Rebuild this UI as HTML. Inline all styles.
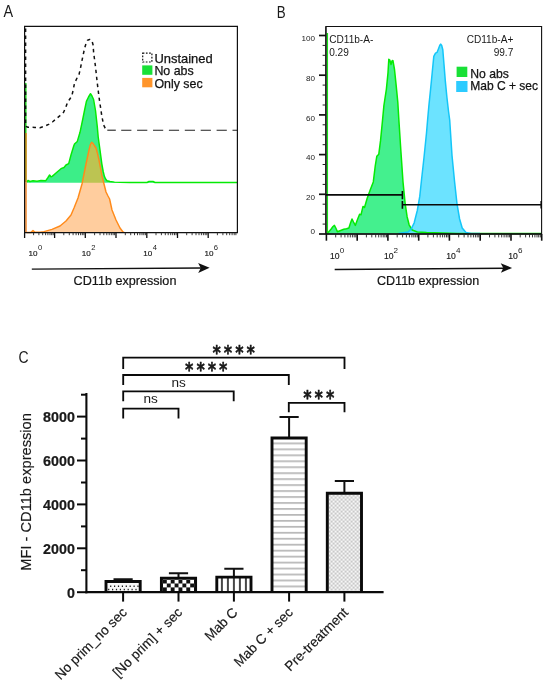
<!DOCTYPE html>
<html lang="en"><head><meta charset="utf-8"><title>CD11b expression figure</title>
<style>html,body{margin:0;padding:0;background:#fff}svg{display:block}text{font-family:'Liberation Sans', sans-serif;fill:#1a1a1a}</style></head><body>
<svg width="550" height="684" viewBox="0 0 550 684">
<defs>
<pattern id="pdots" x="107.5" y="583.2" width="40" height="20" patternUnits="userSpaceOnUse"><rect width="40" height="20" fill="#f7f7f7"/></pattern>
<pattern id="pcheck" x="162.9" y="579.6" width="7.8" height="7.8" patternUnits="userSpaceOnUse"><rect width="7.8" height="7.8" fill="#fff"/><rect width="3.9" height="3.9" fill="#111"/><rect x="3.9" y="3.9" width="3.9" height="3.9" fill="#111"/></pattern>
<pattern id="pvert" x="218.9" y="570" width="6" height="10" patternUnits="userSpaceOnUse"><rect width="6" height="10" fill="#fff"/><rect x="2.2" width="1.6" height="10" fill="#1a1a1a"/></pattern>
<pattern id="phorz" x="270" y="440.5" width="40" height="5.96" patternUnits="userSpaceOnUse"><rect width="40" height="5.96" fill="#fff"/><rect y="2.5" width="40" height="0.85" fill="#6e6e6e"/></pattern>
<pattern id="pfine" x="328.6" y="494.6" width="4" height="4" patternUnits="userSpaceOnUse"><rect width="4" height="4" fill="#f7f7f7"/><rect width="2" height="2" fill="#c8c8c8"/><rect x="2" y="2" width="2" height="2" fill="#c8c8c8"/></pattern>
</defs>
<g id="panelA">
<text x="3.4" y="16.6" font-size="16" textLength="9.6" lengthAdjust="spacingAndGlyphs" fill="#000">A</text>
<clipPath id="cgA"><path d="M26.7,182.1 L28.0,180.5 L30.0,181.5 L33.0,180.7 L37.0,181.3 L41.0,180.5 L45.8,180.7 L48.0,177.5 L49.6,175.0 L51.0,176.8 L52.2,176.4 L56.0,173.0 L61.0,168.7 L64.0,167.5 L66.0,165.0 L68.7,163.6 L71.0,155.0 L73.8,145.8 L74.5,144.1 L77.3,141.4 L80.0,132.3 L82.7,119.5 L84.5,110.5 L86.4,101.4 L88.5,97.0 L90.5,93.7 L92.0,96.0 L93.6,99.5 L95.5,110.5 L97.3,126.8 L98.2,137.0 L100.0,150.0 L101.8,163.6 L103.2,171.5 L104.4,176.4 L105.6,179.0 L107.0,180.7 L110.0,181.5 L114.5,182.1 L120.0,182.4 L130.0,182.5 L140.0,182.5 L147.0,182.5 L149.0,181.5 L153.0,181.5 L155.0,182.5 L170.0,182.5 L200.0,182.5 L237.4,182.5 L237.4,182.7 L26.7,182.7 Z"/></clipPath>
<path d="M26.7,182.1 L28.0,180.5 L30.0,181.5 L33.0,180.7 L37.0,181.3 L41.0,180.5 L45.8,180.7 L48.0,177.5 L49.6,175.0 L51.0,176.8 L52.2,176.4 L56.0,173.0 L61.0,168.7 L64.0,167.5 L66.0,165.0 L68.7,163.6 L71.0,155.0 L73.8,145.8 L74.5,144.1 L77.3,141.4 L80.0,132.3 L82.7,119.5 L84.5,110.5 L86.4,101.4 L88.5,97.0 L90.5,93.7 L92.0,96.0 L93.6,99.5 L95.5,110.5 L97.3,126.8 L98.2,137.0 L100.0,150.0 L101.8,163.6 L103.2,171.5 L104.4,176.4 L105.6,179.0 L107.0,180.7 L110.0,181.5 L114.5,182.1 L120.0,182.4 L130.0,182.5 L140.0,182.5 L147.0,182.5 L149.0,181.5 L153.0,181.5 L155.0,182.5 L170.0,182.5 L200.0,182.5 L237.4,182.5 L237.4,182.7 L26.7,182.7 Z" fill="#3cee88" stroke="none"/>
<path d="M26.5,232.4 L31.0,232.4 L33.0,230.6 L35.0,232.2 L40.0,232.2 L44.0,231.6 L52.0,229.4 L60.0,226.0 L66.0,221.0 L71.0,215.0 L74.0,208.0 L78.0,198.0 L82.0,184.0 L86.0,164.0 L89.0,150.0 L90.4,144.5 L91.6,142.3 L93.2,143.6 L94.6,146.0 L96.0,148.0 L97.5,153.5 L99.0,160.0 L102.0,176.0 L106.0,192.0 L108.0,196.0 L109.6,199.0 L112.0,210.0 L116.0,220.0 L120.0,228.0 L123.0,232.0 L124.5,232.6 Z" fill="#ffcd9e" stroke="none"/>
<path d="M26.5,232.4 L31.0,232.4 L33.0,230.6 L35.0,232.2 L40.0,232.2 L44.0,231.6 L52.0,229.4 L60.0,226.0 L66.0,221.0 L71.0,215.0 L74.0,208.0 L78.0,198.0 L82.0,184.0 L86.0,164.0 L89.0,150.0 L90.4,144.5 L91.6,142.3 L93.2,143.6 L94.6,146.0 L96.0,148.0 L97.5,153.5 L99.0,160.0 L102.0,176.0 L106.0,192.0 L108.0,196.0 L109.6,199.0 L112.0,210.0 L116.0,220.0 L120.0,228.0 L123.0,232.0 L124.5,232.6 Z" fill="#bcc452" stroke="none" clip-path="url(#cgA)"/>
<path d="M26.7,182.1 L28.0,180.5 L30.0,181.5 L33.0,180.7 L37.0,181.3 L41.0,180.5 L45.8,180.7 L48.0,177.5 L49.6,175.0 L51.0,176.8 L52.2,176.4 L56.0,173.0 L61.0,168.7 L64.0,167.5 L66.0,165.0 L68.7,163.6 L71.0,155.0 L73.8,145.8 L74.5,144.1 L77.3,141.4 L80.0,132.3 L82.7,119.5 L84.5,110.5 L86.4,101.4 L88.5,97.0 L90.5,93.7 L92.0,96.0 L93.6,99.5 L95.5,110.5 L97.3,126.8 L98.2,137.0 L100.0,150.0 L101.8,163.6 L103.2,171.5 L104.4,176.4 L105.6,179.0 L107.0,180.7 L110.0,181.5 L114.5,182.1 L120.0,182.4 L130.0,182.5 L140.0,182.5 L147.0,182.5 L149.0,181.5 L153.0,181.5 L155.0,182.5 L170.0,182.5 L200.0,182.5 L237.4,182.5" fill="none" stroke="#05ea05" stroke-width="1.45" stroke-linejoin="round"/>
<path d="M26.5,232.4 L31.0,232.4 L33.0,230.6 L35.0,232.2 L40.0,232.2 L44.0,231.6 L52.0,229.4 L60.0,226.0 L66.0,221.0 L71.0,215.0 L74.0,208.0 L78.0,198.0 L82.0,184.0 L86.0,164.0 L89.0,150.0 L90.4,144.5 L91.6,142.3 L93.2,143.6 L94.6,146.0 L96.0,148.0 L97.5,153.5 L99.0,160.0 L102.0,176.0 L106.0,192.0 L108.0,196.0 L109.6,199.0 L112.0,210.0 L116.0,220.0 L120.0,228.0 L123.0,232.0 L124.5,232.6" fill="none" stroke="#ff8a1a" stroke-width="1.45" stroke-linejoin="round"/>
<line x1="25.8" y1="83" x2="25.8" y2="182" stroke="#1fe01f" stroke-width="1.5"/>
<line x1="26" y1="133" x2="26" y2="232.3" stroke="#f5801a" stroke-width="1.4"/>
<path d="M25.6,28.5 L25.6,126.3 L28.0,127.3 L30.5,127.2 L35.0,127.4 L40.0,127.7 L44.5,126.3 L49.1,124.1 L53.0,121.5 L56.4,118.6 L60.0,115.6 L63.6,112.3 L65.5,108.0 L67.3,103.2 L69.5,99.5 L71.8,95.9 L73.2,90.0 L74.5,83.2 L76.8,78.5 L79.1,74.1 L80.5,68.0 L81.8,61.4 L84.5,48.6 L86.4,42.3 L87.6,40.2 L89.7,39.4 L91.8,40.2 L93.1,45.0 L93.6,52.3 L95.5,66.8 L97.3,83.2 L99.1,97.7 L101.8,115.9 L103.6,125.0 L105.2,128.2 L107.3,129.8" fill="none" stroke="#111" stroke-width="1.5" stroke-dasharray="3.4 3.6" stroke-linejoin="round"/>
<line x1="107.3" y1="130.2" x2="115.8" y2="130.2" stroke="#222" stroke-width="1.1"/>
<line x1="121.2" y1="130.2" x2="237" y2="130.2" stroke="#222" stroke-width="1.05" stroke-dasharray="10.2 5.7"/>
<path d="M24.6,26.3 H237.4 V232.6 H24.6 Z" fill="none" stroke="#111" stroke-width="1.2"/>
<line x1="24.6" y1="232.6" x2="24.6" y2="238.0" stroke="#111" stroke-width="1.3"/>
<line x1="33.6" y1="232.6" x2="33.6" y2="235.2" stroke="#222" stroke-width="0.9"/>
<line x1="38.9" y1="232.6" x2="38.9" y2="235.2" stroke="#222" stroke-width="0.9"/>
<line x1="42.7" y1="232.6" x2="42.7" y2="235.2" stroke="#222" stroke-width="0.9"/>
<line x1="45.6" y1="232.6" x2="45.6" y2="235.2" stroke="#222" stroke-width="0.9"/>
<line x1="47.9" y1="232.6" x2="47.9" y2="235.2" stroke="#222" stroke-width="0.9"/>
<line x1="50.0" y1="232.6" x2="50.0" y2="235.2" stroke="#222" stroke-width="0.9"/>
<line x1="51.7" y1="232.6" x2="51.7" y2="235.2" stroke="#222" stroke-width="0.9"/>
<line x1="53.2" y1="232.6" x2="53.2" y2="235.2" stroke="#222" stroke-width="0.9"/>
<line x1="54.6" y1="232.6" x2="54.6" y2="238.0" stroke="#111" stroke-width="1.3"/>
<line x1="63.8" y1="232.6" x2="63.8" y2="235.2" stroke="#222" stroke-width="0.9"/>
<line x1="69.3" y1="232.6" x2="69.3" y2="235.2" stroke="#222" stroke-width="0.9"/>
<line x1="73.1" y1="232.6" x2="73.1" y2="235.2" stroke="#222" stroke-width="0.9"/>
<line x1="76.1" y1="232.6" x2="76.1" y2="235.2" stroke="#222" stroke-width="0.9"/>
<line x1="78.5" y1="232.6" x2="78.5" y2="235.2" stroke="#222" stroke-width="0.9"/>
<line x1="80.6" y1="232.6" x2="80.6" y2="235.2" stroke="#222" stroke-width="0.9"/>
<line x1="82.3" y1="232.6" x2="82.3" y2="235.2" stroke="#222" stroke-width="0.9"/>
<line x1="83.9" y1="232.6" x2="83.9" y2="235.2" stroke="#222" stroke-width="0.9"/>
<line x1="85.3" y1="232.6" x2="85.3" y2="238.0" stroke="#111" stroke-width="1.3"/>
<line x1="94.6" y1="232.6" x2="94.6" y2="235.2" stroke="#222" stroke-width="0.9"/>
<line x1="100.0" y1="232.6" x2="100.0" y2="235.2" stroke="#222" stroke-width="0.9"/>
<line x1="103.8" y1="232.6" x2="103.8" y2="235.2" stroke="#222" stroke-width="0.9"/>
<line x1="106.8" y1="232.6" x2="106.8" y2="235.2" stroke="#222" stroke-width="0.9"/>
<line x1="109.2" y1="232.6" x2="109.2" y2="235.2" stroke="#222" stroke-width="0.9"/>
<line x1="111.3" y1="232.6" x2="111.3" y2="235.2" stroke="#222" stroke-width="0.9"/>
<line x1="113.1" y1="232.6" x2="113.1" y2="235.2" stroke="#222" stroke-width="0.9"/>
<line x1="114.6" y1="232.6" x2="114.6" y2="235.2" stroke="#222" stroke-width="0.9"/>
<line x1="116.0" y1="232.6" x2="116.0" y2="238.0" stroke="#111" stroke-width="1.3"/>
<line x1="125.3" y1="232.6" x2="125.3" y2="235.2" stroke="#222" stroke-width="0.9"/>
<line x1="130.7" y1="232.6" x2="130.7" y2="235.2" stroke="#222" stroke-width="0.9"/>
<line x1="134.5" y1="232.6" x2="134.5" y2="235.2" stroke="#222" stroke-width="0.9"/>
<line x1="137.5" y1="232.6" x2="137.5" y2="235.2" stroke="#222" stroke-width="0.9"/>
<line x1="139.9" y1="232.6" x2="139.9" y2="235.2" stroke="#222" stroke-width="0.9"/>
<line x1="142.0" y1="232.6" x2="142.0" y2="235.2" stroke="#222" stroke-width="0.9"/>
<line x1="143.8" y1="232.6" x2="143.8" y2="235.2" stroke="#222" stroke-width="0.9"/>
<line x1="145.4" y1="232.6" x2="145.4" y2="235.2" stroke="#222" stroke-width="0.9"/>
<line x1="146.8" y1="232.6" x2="146.8" y2="238.0" stroke="#111" stroke-width="1.3"/>
<line x1="156.0" y1="232.6" x2="156.0" y2="235.2" stroke="#222" stroke-width="0.9"/>
<line x1="161.4" y1="232.6" x2="161.4" y2="235.2" stroke="#222" stroke-width="0.9"/>
<line x1="165.3" y1="232.6" x2="165.3" y2="235.2" stroke="#222" stroke-width="0.9"/>
<line x1="168.2" y1="232.6" x2="168.2" y2="235.2" stroke="#222" stroke-width="0.9"/>
<line x1="170.7" y1="232.6" x2="170.7" y2="235.2" stroke="#222" stroke-width="0.9"/>
<line x1="172.7" y1="232.6" x2="172.7" y2="235.2" stroke="#222" stroke-width="0.9"/>
<line x1="174.5" y1="232.6" x2="174.5" y2="235.2" stroke="#222" stroke-width="0.9"/>
<line x1="176.1" y1="232.6" x2="176.1" y2="235.2" stroke="#222" stroke-width="0.9"/>
<line x1="177.5" y1="232.6" x2="177.5" y2="238.0" stroke="#111" stroke-width="1.3"/>
<line x1="186.7" y1="232.6" x2="186.7" y2="235.2" stroke="#222" stroke-width="0.9"/>
<line x1="192.1" y1="232.6" x2="192.1" y2="235.2" stroke="#222" stroke-width="0.9"/>
<line x1="196.0" y1="232.6" x2="196.0" y2="235.2" stroke="#222" stroke-width="0.9"/>
<line x1="199.0" y1="232.6" x2="199.0" y2="235.2" stroke="#222" stroke-width="0.9"/>
<line x1="201.4" y1="232.6" x2="201.4" y2="235.2" stroke="#222" stroke-width="0.9"/>
<line x1="203.4" y1="232.6" x2="203.4" y2="235.2" stroke="#222" stroke-width="0.9"/>
<line x1="205.2" y1="232.6" x2="205.2" y2="235.2" stroke="#222" stroke-width="0.9"/>
<line x1="206.8" y1="232.6" x2="206.8" y2="235.2" stroke="#222" stroke-width="0.9"/>
<line x1="208.2" y1="232.6" x2="208.2" y2="238.0" stroke="#111" stroke-width="1.3"/>
<line x1="217.4" y1="232.6" x2="217.4" y2="235.2" stroke="#222" stroke-width="0.9"/>
<line x1="222.9" y1="232.6" x2="222.9" y2="235.2" stroke="#222" stroke-width="0.9"/>
<line x1="226.7" y1="232.6" x2="226.7" y2="235.2" stroke="#222" stroke-width="0.9"/>
<line x1="229.7" y1="232.6" x2="229.7" y2="235.2" stroke="#222" stroke-width="0.9"/>
<line x1="232.1" y1="232.6" x2="232.1" y2="235.2" stroke="#222" stroke-width="0.9"/>
<line x1="234.2" y1="232.6" x2="234.2" y2="235.2" stroke="#222" stroke-width="0.9"/>
<line x1="235.9" y1="232.6" x2="235.9" y2="235.2" stroke="#222" stroke-width="0.9"/>
<text x="33.1" y="256" font-size="8.1" text-anchor="middle" fill="#111" stroke="#111" stroke-width="0.15">10</text><text x="38.0" y="249.7" font-size="7.6" fill="#111">0</text>
<text x="86.3" y="256" font-size="8.1" text-anchor="middle" fill="#111" stroke="#111" stroke-width="0.15">10</text><text x="91.2" y="249.7" font-size="7.6" fill="#111">2</text>
<text x="147.8" y="256" font-size="8.1" text-anchor="middle" fill="#111" stroke="#111" stroke-width="0.15">10</text><text x="152.7" y="249.7" font-size="7.6" fill="#111">4</text>
<text x="208.9" y="256" font-size="8.1" text-anchor="middle" fill="#111" stroke="#111" stroke-width="0.15">10</text><text x="213.8" y="249.7" font-size="7.6" fill="#111">6</text>
<rect x="142.7" y="53.2" width="9.2" height="8.8" fill="#fff" stroke="#111" stroke-width="1.2" stroke-dasharray="1.7 1.5"/>
<rect x="142.2" y="65.4" width="10.2" height="9.4" fill="#18e036"/>
<rect x="142.2" y="77.9" width="10.2" height="9.4" fill="#ff952b"/>
<text x="154.4" y="62.9" font-size="12.8" fill="#000" stroke="#000" stroke-width="0.25" textLength="58.3" lengthAdjust="spacingAndGlyphs">Unstained</text>
<text x="154.4" y="75.2" font-size="12.8" fill="#000" stroke="#000" stroke-width="0.25" textLength="39.3" lengthAdjust="spacingAndGlyphs">No abs</text>
<text x="154.4" y="87.7" font-size="12.8" fill="#000" stroke="#000" stroke-width="0.25" textLength="48.3" lengthAdjust="spacingAndGlyphs">Only sec</text>
<line x1="31.8" y1="269.1" x2="201.5" y2="268" stroke="#111" stroke-width="1.4"/>
<path d="M209.6,267.8 L198.1,263.1 L200.8,268 L198.2,272.9 Z" fill="#111"/>
<text x="73.6" y="284.9" font-size="12.6" textLength="102.8" fill="#000" stroke="#000" stroke-width="0.2" lengthAdjust="spacingAndGlyphs">CD11b expression</text>
</g>
<g id="panelB">
<text x="276.7" y="18.2" font-size="15.8" textLength="8.9" lengthAdjust="spacingAndGlyphs" fill="#000">B</text>
<path d="M327.3,233.4 L329.0,231.5 L331.0,229.3 L333.0,226.5 L334.4,225.4 L335.8,228.0 L337.4,231.8 L340.0,230.8 L343.8,229.3 L346.5,228.8 L348.9,228.0 L350.5,223.0 L352.0,219.0 L353.5,222.0 L355.3,225.4 L357.5,219.5 L359.6,214.3 L361.0,214.8 L363.0,206.4 L364.5,207.5 L367.2,198.2 L370.2,190.0 L373.3,181.9 L375.3,165.5 L376.8,156.3 L378.8,154.2 L380.5,140.9 L382.5,120.5 L383.9,105.5 L386.4,89.1 L388.0,72.7 L388.8,59.3 L389.8,60.0 L391.0,64.5 L392.0,61.0 L392.9,60.5 L394.5,69.5 L396.2,85.8 L397.8,102.2 L398.9,120.5 L400.9,151.2 L403.0,181.9 L405.0,202.3 L407.1,216.7 L409.1,224.8 L412.2,230.0 L417.3,232.0 L426.5,232.6 L441.8,233.0 L457.0,233.4 L470.0,233.5 L541.0,233.5 L541.0,233.8 L327.3,233.8 Z" fill="#44f08e" stroke="none"/>
<path d="M398.5,233.5 L403.0,232.7 L408.1,232.0 L411.2,229.0 L414.2,222.8 L417.3,210.5 L419.8,196.2 L421.5,180.0 L424.0,157.5 L426.5,133.0 L427.6,120.0 L428.9,105.5 L430.6,89.1 L432.2,72.7 L433.8,56.4 L435.5,53.1 L437.1,52.3 L438.7,48.2 L439.8,45.2 L440.7,44.1 L441.7,45.5 L442.8,49.8 L444.0,64.5 L445.3,80.9 L446.9,97.3 L448.6,112.0 L449.7,120.0 L452.0,155.5 L454.5,181.0 L457.0,203.8 L459.6,219.0 L462.2,228.0 L466.0,232.4 L471.0,233.6 L480.0,233.6 Z" fill="#5ce0ff" fill-opacity="0.9" stroke="none"/>
<path d="M327.3,233.4 L329.0,231.5 L331.0,229.3 L333.0,226.5 L334.4,225.4 L335.8,228.0 L337.4,231.8 L340.0,230.8 L343.8,229.3 L346.5,228.8 L348.9,228.0 L350.5,223.0 L352.0,219.0 L353.5,222.0 L355.3,225.4 L357.5,219.5 L359.6,214.3 L361.0,214.8 L363.0,206.4 L364.5,207.5 L367.2,198.2 L370.2,190.0 L373.3,181.9 L375.3,165.5 L376.8,156.3 L378.8,154.2 L380.5,140.9 L382.5,120.5 L383.9,105.5 L386.4,89.1 L388.0,72.7 L388.8,59.3 L389.8,60.0 L391.0,64.5 L392.0,61.0 L392.9,60.5 L394.5,69.5 L396.2,85.8 L397.8,102.2 L398.9,120.5 L400.9,151.2 L403.0,181.9 L405.0,202.3 L407.1,216.7 L409.1,224.8 L412.2,230.0 L417.3,232.0 L426.5,232.6 L441.8,233.0 L457.0,233.4 L470.0,233.5 L541.0,233.5" fill="none" stroke="#05ea05" stroke-width="1.5" stroke-linejoin="round"/>
<path d="M398.5,233.5 L403.0,232.7 L408.1,232.0 L411.2,229.0 L414.2,222.8 L417.3,210.5 L419.8,196.2 L421.5,180.0 L424.0,157.5 L426.5,133.0 L427.6,120.0 L428.9,105.5 L430.6,89.1 L432.2,72.7 L433.8,56.4 L435.5,53.1 L437.1,52.3 L438.7,48.2 L439.8,45.2 L440.7,44.1 L441.7,45.5 L442.8,49.8 L444.0,64.5 L445.3,80.9 L446.9,97.3 L448.6,112.0 L449.7,120.0 L452.0,155.5 L454.5,181.0 L457.0,203.8 L459.6,219.0 L462.2,228.0 L466.0,232.4 L471.0,233.6 L480.0,233.6" fill="none" stroke="#14c6f8" stroke-width="1.5" stroke-linejoin="round"/>
<line x1="327.3" y1="33" x2="327.3" y2="233.7" stroke="#18e218" stroke-width="1.5"/>
<path d="M325.9,26.5 H541.6 V234.0 H325.9 Z" fill="none" stroke="#111" stroke-width="1.1"/>
<line x1="325.9" y1="26.5" x2="325.9" y2="234.0" stroke="#111" stroke-width="1.2"/>
<line x1="325.9" y1="234.0" x2="541.6" y2="234.0" stroke="#111" stroke-width="1.4"/>
<line x1="326.4" y1="234.0" x2="326.4" y2="240.7" stroke="#111" stroke-width="1.6"/>
<line x1="335.7" y1="234.0" x2="335.7" y2="237.4" stroke="#222" stroke-width="0.9"/>
<line x1="341.1" y1="234.0" x2="341.1" y2="237.4" stroke="#222" stroke-width="0.9"/>
<line x1="344.9" y1="234.0" x2="344.9" y2="237.4" stroke="#222" stroke-width="0.9"/>
<line x1="347.9" y1="234.0" x2="347.9" y2="237.4" stroke="#222" stroke-width="0.9"/>
<line x1="350.3" y1="234.0" x2="350.3" y2="237.4" stroke="#222" stroke-width="0.9"/>
<line x1="352.4" y1="234.0" x2="352.4" y2="237.4" stroke="#222" stroke-width="0.9"/>
<line x1="354.2" y1="234.0" x2="354.2" y2="237.4" stroke="#222" stroke-width="0.9"/>
<line x1="355.8" y1="234.0" x2="355.8" y2="237.4" stroke="#222" stroke-width="0.9"/>
<line x1="357.2" y1="234.0" x2="357.2" y2="240.7" stroke="#111" stroke-width="1.6"/>
<line x1="366.4" y1="234.0" x2="366.4" y2="237.4" stroke="#222" stroke-width="0.9"/>
<line x1="371.8" y1="234.0" x2="371.8" y2="237.4" stroke="#222" stroke-width="0.9"/>
<line x1="375.7" y1="234.0" x2="375.7" y2="237.4" stroke="#222" stroke-width="0.9"/>
<line x1="378.7" y1="234.0" x2="378.7" y2="237.4" stroke="#222" stroke-width="0.9"/>
<line x1="381.1" y1="234.0" x2="381.1" y2="237.4" stroke="#222" stroke-width="0.9"/>
<line x1="383.2" y1="234.0" x2="383.2" y2="237.4" stroke="#222" stroke-width="0.9"/>
<line x1="384.9" y1="234.0" x2="384.9" y2="237.4" stroke="#222" stroke-width="0.9"/>
<line x1="386.5" y1="234.0" x2="386.5" y2="237.4" stroke="#222" stroke-width="0.9"/>
<line x1="387.9" y1="234.0" x2="387.9" y2="240.7" stroke="#111" stroke-width="1.6"/>
<line x1="397.2" y1="234.0" x2="397.2" y2="237.4" stroke="#222" stroke-width="0.9"/>
<line x1="402.6" y1="234.0" x2="402.6" y2="237.4" stroke="#222" stroke-width="0.9"/>
<line x1="406.4" y1="234.0" x2="406.4" y2="237.4" stroke="#222" stroke-width="0.9"/>
<line x1="409.4" y1="234.0" x2="409.4" y2="237.4" stroke="#222" stroke-width="0.9"/>
<line x1="411.9" y1="234.0" x2="411.9" y2="237.4" stroke="#222" stroke-width="0.9"/>
<line x1="413.9" y1="234.0" x2="413.9" y2="237.4" stroke="#222" stroke-width="0.9"/>
<line x1="415.7" y1="234.0" x2="415.7" y2="237.4" stroke="#222" stroke-width="0.9"/>
<line x1="417.3" y1="234.0" x2="417.3" y2="237.4" stroke="#222" stroke-width="0.9"/>
<line x1="418.7" y1="234.0" x2="418.7" y2="240.7" stroke="#111" stroke-width="1.6"/>
<line x1="427.9" y1="234.0" x2="427.9" y2="237.4" stroke="#222" stroke-width="0.9"/>
<line x1="433.4" y1="234.0" x2="433.4" y2="237.4" stroke="#222" stroke-width="0.9"/>
<line x1="437.2" y1="234.0" x2="437.2" y2="237.4" stroke="#222" stroke-width="0.9"/>
<line x1="440.2" y1="234.0" x2="440.2" y2="237.4" stroke="#222" stroke-width="0.9"/>
<line x1="442.6" y1="234.0" x2="442.6" y2="237.4" stroke="#222" stroke-width="0.9"/>
<line x1="444.7" y1="234.0" x2="444.7" y2="237.4" stroke="#222" stroke-width="0.9"/>
<line x1="446.5" y1="234.0" x2="446.5" y2="237.4" stroke="#222" stroke-width="0.9"/>
<line x1="448.0" y1="234.0" x2="448.0" y2="237.4" stroke="#222" stroke-width="0.9"/>
<line x1="449.4" y1="234.0" x2="449.4" y2="240.7" stroke="#111" stroke-width="1.6"/>
<line x1="458.7" y1="234.0" x2="458.7" y2="237.4" stroke="#222" stroke-width="0.9"/>
<line x1="464.1" y1="234.0" x2="464.1" y2="237.4" stroke="#222" stroke-width="0.9"/>
<line x1="468.0" y1="234.0" x2="468.0" y2="237.4" stroke="#222" stroke-width="0.9"/>
<line x1="470.9" y1="234.0" x2="470.9" y2="237.4" stroke="#222" stroke-width="0.9"/>
<line x1="473.4" y1="234.0" x2="473.4" y2="237.4" stroke="#222" stroke-width="0.9"/>
<line x1="475.4" y1="234.0" x2="475.4" y2="237.4" stroke="#222" stroke-width="0.9"/>
<line x1="477.2" y1="234.0" x2="477.2" y2="237.4" stroke="#222" stroke-width="0.9"/>
<line x1="478.8" y1="234.0" x2="478.8" y2="237.4" stroke="#222" stroke-width="0.9"/>
<line x1="480.2" y1="234.0" x2="480.2" y2="240.7" stroke="#111" stroke-width="1.6"/>
<line x1="489.5" y1="234.0" x2="489.5" y2="237.4" stroke="#222" stroke-width="0.9"/>
<line x1="494.9" y1="234.0" x2="494.9" y2="237.4" stroke="#222" stroke-width="0.9"/>
<line x1="498.7" y1="234.0" x2="498.7" y2="237.4" stroke="#222" stroke-width="0.9"/>
<line x1="501.7" y1="234.0" x2="501.7" y2="237.4" stroke="#222" stroke-width="0.9"/>
<line x1="504.1" y1="234.0" x2="504.1" y2="237.4" stroke="#222" stroke-width="0.9"/>
<line x1="506.2" y1="234.0" x2="506.2" y2="237.4" stroke="#222" stroke-width="0.9"/>
<line x1="508.0" y1="234.0" x2="508.0" y2="237.4" stroke="#222" stroke-width="0.9"/>
<line x1="509.6" y1="234.0" x2="509.6" y2="237.4" stroke="#222" stroke-width="0.9"/>
<line x1="511.0" y1="234.0" x2="511.0" y2="240.7" stroke="#111" stroke-width="1.6"/>
<line x1="520.2" y1="234.0" x2="520.2" y2="237.4" stroke="#222" stroke-width="0.9"/>
<line x1="525.6" y1="234.0" x2="525.6" y2="237.4" stroke="#222" stroke-width="0.9"/>
<line x1="529.5" y1="234.0" x2="529.5" y2="237.4" stroke="#222" stroke-width="0.9"/>
<line x1="532.5" y1="234.0" x2="532.5" y2="237.4" stroke="#222" stroke-width="0.9"/>
<line x1="534.9" y1="234.0" x2="534.9" y2="237.4" stroke="#222" stroke-width="0.9"/>
<line x1="537.0" y1="234.0" x2="537.0" y2="237.4" stroke="#222" stroke-width="0.9"/>
<line x1="538.7" y1="234.0" x2="538.7" y2="237.4" stroke="#222" stroke-width="0.9"/>
<line x1="540.3" y1="234.0" x2="540.3" y2="237.4" stroke="#222" stroke-width="0.9"/>
<line x1="541.7" y1="234.0" x2="541.7" y2="240.7" stroke="#111" stroke-width="1.6"/>
<line x1="319" y1="234.0" x2="325.9" y2="234.0" stroke="#111" stroke-width="1.7"/>
<line x1="322.6" y1="224.1" x2="325.9" y2="224.1" stroke="#222" stroke-width="1"/>
<line x1="322.6" y1="214.2" x2="325.9" y2="214.2" stroke="#222" stroke-width="1"/>
<line x1="322.6" y1="204.2" x2="325.9" y2="204.2" stroke="#222" stroke-width="1"/>
<line x1="319" y1="194.3" x2="325.9" y2="194.3" stroke="#111" stroke-width="1.7"/>
<line x1="322.6" y1="184.4" x2="325.9" y2="184.4" stroke="#222" stroke-width="1"/>
<line x1="322.6" y1="174.4" x2="325.9" y2="174.4" stroke="#222" stroke-width="1"/>
<line x1="322.6" y1="164.5" x2="325.9" y2="164.5" stroke="#222" stroke-width="1"/>
<line x1="319" y1="154.6" x2="325.9" y2="154.6" stroke="#111" stroke-width="1.7"/>
<line x1="322.6" y1="144.7" x2="325.9" y2="144.7" stroke="#222" stroke-width="1"/>
<line x1="322.6" y1="134.8" x2="325.9" y2="134.8" stroke="#222" stroke-width="1"/>
<line x1="322.6" y1="124.8" x2="325.9" y2="124.8" stroke="#222" stroke-width="1"/>
<line x1="319" y1="114.9" x2="325.9" y2="114.9" stroke="#111" stroke-width="1.7"/>
<line x1="322.6" y1="105.0" x2="325.9" y2="105.0" stroke="#222" stroke-width="1"/>
<line x1="322.6" y1="95.0" x2="325.9" y2="95.0" stroke="#222" stroke-width="1"/>
<line x1="322.6" y1="85.1" x2="325.9" y2="85.1" stroke="#222" stroke-width="1"/>
<line x1="319" y1="75.2" x2="325.9" y2="75.2" stroke="#111" stroke-width="1.7"/>
<line x1="322.6" y1="65.3" x2="325.9" y2="65.3" stroke="#222" stroke-width="1"/>
<line x1="322.6" y1="55.3" x2="325.9" y2="55.3" stroke="#222" stroke-width="1"/>
<line x1="322.6" y1="45.4" x2="325.9" y2="45.4" stroke="#222" stroke-width="1"/>
<line x1="319" y1="35.5" x2="325.9" y2="35.5" stroke="#111" stroke-width="1.7"/>
<text x="314.9" y="234.3" font-size="8.1" text-anchor="end" fill="#1a1a1a">0</text>
<text x="314.9" y="199.6" font-size="8.1" text-anchor="end" fill="#1a1a1a">20</text>
<text x="314.9" y="160.4" font-size="8.1" text-anchor="end" fill="#1a1a1a">40</text>
<text x="314.9" y="120.7" font-size="8.1" text-anchor="end" fill="#1a1a1a">60</text>
<text x="314.9" y="81.0" font-size="8.1" text-anchor="end" fill="#1a1a1a">80</text>
<text x="314.9" y="41.3" font-size="8.1" text-anchor="end" fill="#1a1a1a">100</text>
<text x="334.8" y="258.7" font-size="8.6" text-anchor="middle" fill="#111" stroke="#111" stroke-width="0.15">10</text><text x="339.7" y="252.7" font-size="8.1" fill="#111">0</text>
<text x="388.7" y="258.7" font-size="8.6" text-anchor="middle" fill="#111" stroke="#111" stroke-width="0.15">10</text><text x="393.6" y="252.7" font-size="8.1" fill="#111">2</text>
<text x="451.0" y="258.7" font-size="8.6" text-anchor="middle" fill="#111" stroke="#111" stroke-width="0.15">10</text><text x="455.9" y="252.7" font-size="8.1" fill="#111">4</text>
<text x="513.1" y="258.7" font-size="8.6" text-anchor="middle" fill="#111" stroke="#111" stroke-width="0.15">10</text><text x="518.0" y="252.7" font-size="8.1" fill="#111">6</text>
<path d="M325.9,194.9 H402.4 M402.4,191 V199.2 M402.4,204.8 H541.4 M402.4,201 V208.8 M541.2,201 V208.6" fill="none" stroke="#0a0a0a" stroke-width="1.6"/>
<text x="329.2" y="43.1" font-size="10.1" fill="#333">CD11b-A-</text>
<text x="329.2" y="56.2" font-size="10.1" fill="#333">0.29</text>
<text x="513.3" y="42.6" font-size="10.1" text-anchor="end" fill="#333">CD11b-A+</text>
<text x="513.3" y="56.2" font-size="10.1" text-anchor="end" fill="#333">99.7</text>
<rect x="456.6" y="66.7" width="10.7" height="10.3" fill="#18e036"/>
<rect x="456.2" y="81" width="11.3" height="11" fill="#2ccbff"/>
<text x="470.2" y="77.6" font-size="12.8" fill="#000" stroke="#000" stroke-width="0.25" textLength="38.6" lengthAdjust="spacingAndGlyphs">No abs</text>
<text x="470.2" y="90.3" font-size="12.8" fill="#000" stroke="#000" stroke-width="0.25" textLength="67.9" lengthAdjust="spacingAndGlyphs">Mab C + sec</text>
<line x1="334.7" y1="269.5" x2="504" y2="268.2" stroke="#111" stroke-width="1.4"/>
<path d="M512.1,267.9 L500.7,263.2 L503.3,268.1 L500.9,272.8 Z" fill="#111"/>
<text x="377" y="284.8" font-size="12.6" textLength="102.2" fill="#000" stroke="#000" stroke-width="0.2" lengthAdjust="spacingAndGlyphs">CD11b expression</text>
</g>
<g id="panelC">
<text x="18.5" y="363.4" font-size="16" textLength="10.1" lengthAdjust="spacingAndGlyphs" fill="#000">C</text>
<path d="M123.1,581.5 V579.2 M113.5,579.2 H132.7" stroke="#111" stroke-width="2" fill="none"/>
<rect x="106.0" y="581.5" width="34.2" height="10.7" fill="url(#pdots)" stroke="none"/>
<path d="M106.0,592.2 V581.5 H140.2 V592.2" fill="none" stroke="#0a0a0a" stroke-width="2.9" stroke-linejoin="miter"/>
<path d="M178.5,578.1 V573.3 M168.9,573.3 H188.1" stroke="#111" stroke-width="2" fill="none"/>
<rect x="161.4" y="578.1" width="34.2" height="14.1" fill="url(#pcheck)" stroke="none"/>
<path d="M161.4,592.2 V578.1 H195.6 V592.2" fill="none" stroke="#0a0a0a" stroke-width="2.9" stroke-linejoin="miter"/>
<path d="M233.9,577.1 V568.7 M224.3,568.7 H243.5" stroke="#111" stroke-width="2" fill="none"/>
<rect x="216.8" y="577.1" width="34.2" height="15.1" fill="url(#pvert)" stroke="none"/>
<path d="M216.8,592.2 V577.1 H251.0 V592.2" fill="none" stroke="#0a0a0a" stroke-width="2.9" stroke-linejoin="miter"/>
<path d="M289.1,438.0 V416.9 M279.5,416.9 H298.7" stroke="#111" stroke-width="2" fill="none"/>
<rect x="272.0" y="438.0" width="34.2" height="154.2" fill="url(#phorz)" stroke="none"/>
<path d="M272.0,592.2 V438.0 H306.2 V592.2" fill="none" stroke="#0a0a0a" stroke-width="2.9" stroke-linejoin="miter"/>
<path d="M344.4,493.2 V480.9 M334.8,480.9 H354.0" stroke="#111" stroke-width="2" fill="none"/>
<rect x="327.3" y="493.2" width="34.2" height="99.0" fill="url(#pfine)" stroke="none"/>
<path d="M327.3,592.2 V493.2 H361.5 V592.2" fill="none" stroke="#0a0a0a" stroke-width="2.9" stroke-linejoin="miter"/>
<rect x="110.1" y="585.5" width="1.2" height="1.5" fill="#1a1a1a"/>
<rect x="108.1" y="588.8" width="1.2" height="1.5" fill="#1a1a1a"/>
<rect x="114.0" y="585.5" width="1.2" height="1.5" fill="#1a1a1a"/>
<rect x="112.0" y="588.8" width="1.2" height="1.5" fill="#1a1a1a"/>
<rect x="117.9" y="585.5" width="1.2" height="1.5" fill="#1a1a1a"/>
<rect x="115.9" y="588.8" width="1.2" height="1.5" fill="#1a1a1a"/>
<rect x="121.8" y="585.5" width="1.2" height="1.5" fill="#1a1a1a"/>
<rect x="119.8" y="588.8" width="1.2" height="1.5" fill="#1a1a1a"/>
<rect x="125.7" y="585.5" width="1.2" height="1.5" fill="#1a1a1a"/>
<rect x="123.7" y="588.8" width="1.2" height="1.5" fill="#1a1a1a"/>
<rect x="129.6" y="585.5" width="1.2" height="1.5" fill="#1a1a1a"/>
<rect x="127.6" y="588.8" width="1.2" height="1.5" fill="#1a1a1a"/>
<rect x="133.5" y="585.5" width="1.2" height="1.5" fill="#1a1a1a"/>
<rect x="131.5" y="588.8" width="1.2" height="1.5" fill="#1a1a1a"/>
<rect x="137.4" y="585.5" width="1.2" height="1.5" fill="#1a1a1a"/>
<rect x="135.4" y="588.8" width="1.2" height="1.5" fill="#1a1a1a"/>
<line x1="86.4" y1="393" x2="86.4" y2="593.3" stroke="#0a0a0a" stroke-width="2.1"/>
<line x1="85.4" y1="592.2" x2="383.6" y2="592.2" stroke="#0a0a0a" stroke-width="2.2"/>
<line x1="77" y1="592.2" x2="86.4" y2="592.2" stroke="#0a0a0a" stroke-width="2"/>
<line x1="81" y1="570.2" x2="86.4" y2="570.2" stroke="#0a0a0a" stroke-width="2"/>
<line x1="77" y1="548.3" x2="86.4" y2="548.3" stroke="#0a0a0a" stroke-width="2"/>
<line x1="81" y1="526.4" x2="86.4" y2="526.4" stroke="#0a0a0a" stroke-width="2"/>
<line x1="77" y1="504.4" x2="86.4" y2="504.4" stroke="#0a0a0a" stroke-width="2"/>
<line x1="81" y1="482.5" x2="86.4" y2="482.5" stroke="#0a0a0a" stroke-width="2"/>
<line x1="77" y1="460.5" x2="86.4" y2="460.5" stroke="#0a0a0a" stroke-width="2"/>
<line x1="81" y1="438.6" x2="86.4" y2="438.6" stroke="#0a0a0a" stroke-width="2"/>
<line x1="77" y1="416.6" x2="86.4" y2="416.6" stroke="#0a0a0a" stroke-width="2"/>
<line x1="81" y1="394.7" x2="86.4" y2="394.7" stroke="#0a0a0a" stroke-width="2"/>
<text x="74.9" y="598.0" font-size="14.3" font-weight="bold" text-anchor="end" fill="#050505" stroke="#050505" stroke-width="0.2">0</text>
<text x="74.9" y="554.1" font-size="14.3" font-weight="bold" text-anchor="end" fill="#050505" stroke="#050505" stroke-width="0.2">2000</text>
<text x="74.9" y="510.2" font-size="14.3" font-weight="bold" text-anchor="end" fill="#050505" stroke="#050505" stroke-width="0.2">4000</text>
<text x="74.9" y="466.3" font-size="14.3" font-weight="bold" text-anchor="end" fill="#050505" stroke="#050505" stroke-width="0.2">6000</text>
<text x="74.9" y="422.4" font-size="14.3" font-weight="bold" text-anchor="end" fill="#050505" stroke="#050505" stroke-width="0.2">8000</text>
<line x1="123.1" y1="592.2" x2="123.1" y2="601.6" stroke="#0a0a0a" stroke-width="2"/>
<line x1="178.5" y1="592.2" x2="178.5" y2="601.6" stroke="#0a0a0a" stroke-width="2"/>
<line x1="233.9" y1="592.2" x2="233.9" y2="601.6" stroke="#0a0a0a" stroke-width="2"/>
<line x1="289.1" y1="592.2" x2="289.1" y2="601.6" stroke="#0a0a0a" stroke-width="2"/>
<line x1="344.4" y1="592.2" x2="344.4" y2="601.6" stroke="#0a0a0a" stroke-width="2"/>
<text transform="translate(30.5,570.7) rotate(-90)" font-size="13.9" textLength="157.6" lengthAdjust="spacingAndGlyphs" fill="#0a0a0a" stroke="#0a0a0a" stroke-width="0.15">MFI - CD11b expression</text>
<text transform="translate(127.7,613.2) rotate(-45)" font-size="13.6" text-anchor="end" fill="#050505" stroke="#050505" stroke-width="0.15">No prim_no sec</text>
<text transform="translate(183.1,613.2) rotate(-45)" font-size="13.6" text-anchor="end" fill="#050505" stroke="#050505" stroke-width="0.15">[No prim] + sec</text>
<text transform="translate(238.5,613.2) rotate(-45)" font-size="13.6" text-anchor="end" fill="#050505" stroke="#050505" stroke-width="0.15">Mab C</text>
<text transform="translate(293.7,613.2) rotate(-45)" font-size="13.6" text-anchor="end" fill="#050505" stroke="#050505" stroke-width="0.15">Mab C + sec</text>
<text transform="translate(349.0,613.2) rotate(-45)" font-size="13.6" text-anchor="end" fill="#050505" stroke="#050505" stroke-width="0.15">Pre-treatment</text>
<path d="M123.2,368.9 V357.6 H344.5 V368.9" fill="none" stroke="#0a0a0a" stroke-width="1.85"/>
<path d="M123.2,385.0 V375.0 H288.8 V385.0" fill="none" stroke="#0a0a0a" stroke-width="1.85"/>
<path d="M123.2,401.3 V391.3 H233.7 V401.3" fill="none" stroke="#0a0a0a" stroke-width="1.85"/>
<path d="M123.2,418.6 V408.6 H178.5 V418.6" fill="none" stroke="#0a0a0a" stroke-width="1.85"/>
<path d="M288.8,412.3 V402.8 H344.5 V412.3" fill="none" stroke="#0a0a0a" stroke-width="1.85"/>
<text transform="translate(212.0,359.3) scale(0.8,1)" font-size="19.6" font-weight="bold" style="font-family:'DejaVu Sans Mono', monospace" letter-spacing="2.35" fill="#0a0a0a" stroke="#0a0a0a" stroke-width="0.5">****</text>
<text transform="translate(184.6,376.0) scale(0.8,1)" font-size="19.6" font-weight="bold" style="font-family:'DejaVu Sans Mono', monospace" letter-spacing="2.35" fill="#0a0a0a" stroke="#0a0a0a" stroke-width="0.5">****</text>
<text transform="translate(302.8,403.8) scale(0.8,1)" font-size="19.6" font-weight="bold" style="font-family:'DejaVu Sans Mono', monospace" letter-spacing="2.35" fill="#0a0a0a" stroke="#0a0a0a" stroke-width="0.5">***</text>
<text x="178.6" y="386.6" font-size="13.6" text-anchor="middle" fill="#0a0a0a">ns</text>
<text x="150.6" y="402.6" font-size="13.6" text-anchor="middle" fill="#0a0a0a">ns</text>
</g>
</svg></body></html>
